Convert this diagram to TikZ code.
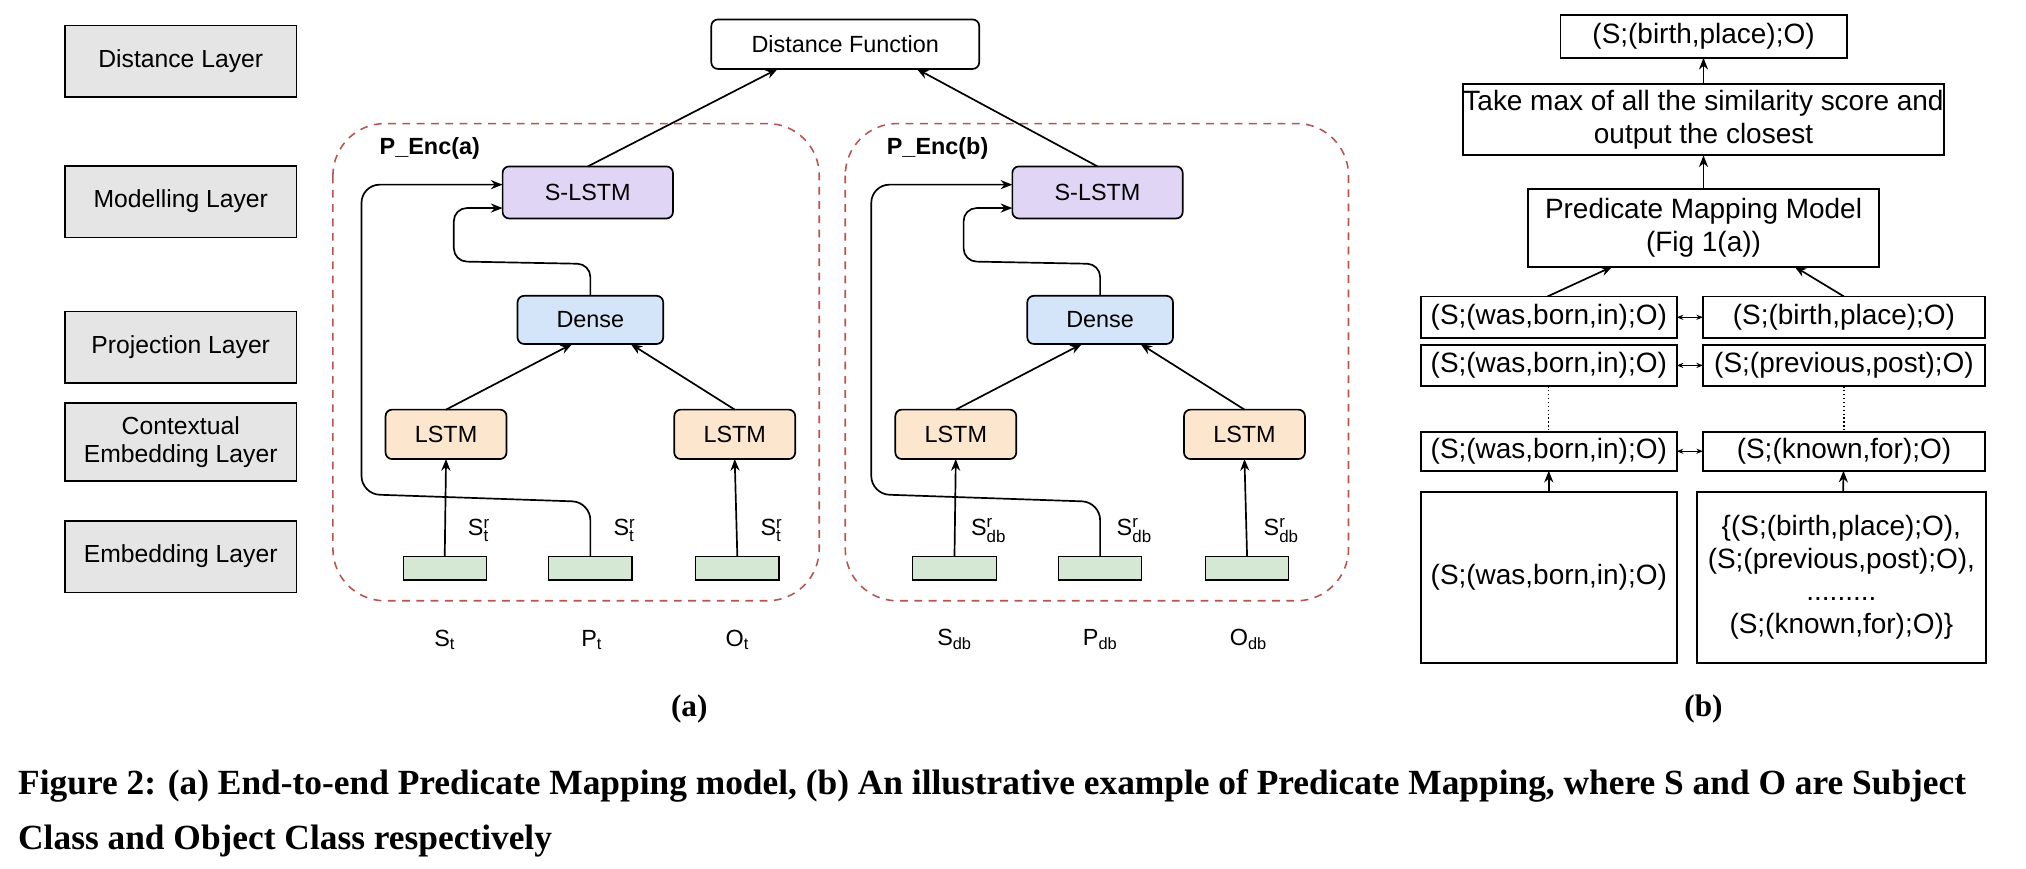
\documentclass[tikz,border=0pt]{standalone}
\usepackage{fontspec}
\setmainfont{Liberation Sans}
\newfontfamily\capfont{Liberation Serif}
\usetikzlibrary{arrows.meta}
\newcommand{\supsub}[1]{S\raisebox{-5pt}{\fontsize{13}{13}\selectfont\shortstack[l]{r\\[-1pt]#1}}}
\begin{document}
\begin{tikzpicture}[x=1pt,y=-1pt,
  every node/.style={inner sep=0pt,outer sep=0pt},
  lay/.style={draw,line width=1.1pt,fill=gray!20,font=\fontsize{19}{22}\selectfont,align=center},
  rbox/.style={draw,line width=1.3pt,rounded corners=5pt,font=\fontsize{18}{21}\selectfont},
  emb/.style={draw,line width=0.9pt,fill=emb},
  pb/.style={draw,line width=1.5pt,font=\fontsize{21.5}{25}\selectfont,align=center},
  arr/.style={line width=1.3pt,-{Stealth[length=9pt,width=7pt]}},
  darr/.style={line width=1pt,{Stealth[length=5pt,width=4pt]}-{Stealth[length=5pt,width=4pt]}},
  enc/.style={draw=encc,dashed,dash pattern=on 6pt off 5pt,line width=1.2pt,rounded corners=40pt},
  lbl/.style={font=\fontsize{18}{21}\selectfont},
]
\definecolor{emb}{HTML}{D5E8D4}
\definecolor{slc}{HTML}{E1D5F5}
\definecolor{dnc}{HTML}{D4E5FA}
\definecolor{lsc}{HTML}{FCE6CE}
\definecolor{encc}{HTML}{B85450}
\useasboundingbox (0,0) rectangle (1558,668);
% layer boxes
\node[lay,minimum width=178pt,minimum height=55pt] (L1) at (139,47) {Distance Layer};
\node[lay,minimum width=178pt,minimum height=55pt] (L2) at (139,155) {Modelling Layer};
\node[lay,minimum width=178pt,minimum height=55pt] (L3) at (139,267) {Projection Layer};
\node[lay,minimum width=178pt,minimum height=60pt] (L4) at (139,340) {Contextual\\Embedding Layer};
\node[lay,minimum width=178pt,minimum height=55pt] (L5) at (139,428) {Embedding Layer};
% distance function
\node[rbox,minimum width=206pt,minimum height=38pt] (DF) at (650,34) {Distance Function};
% encoders
\draw[enc] (256,95) rectangle (630,462);
\draw[enc] (650,95) rectangle (1037,462);
\node[font=\bfseries\fontsize{18}{21}\selectfont,anchor=west] (PA) at (292,114) {P\_Enc(a)};
\node[font=\bfseries\fontsize{18}{21}\selectfont,anchor=west] (PB) at (682,114) {P\_Enc(b)};
\foreach \s/\o/\lab in {a/0/t, b/392/db}{
  \node[rbox,fill=slc,minimum width=131pt,minimum height=40pt] (SL\s) at (452+\o,148) {S-LSTM};
  \node[rbox,fill=dnc,minimum width=112pt,minimum height=37pt] (DN\s) at (454+\o,246) {Dense};
  \node[rbox,fill=lsc,minimum width=93pt,minimum height=38pt] (LL\s) at (343+\o,334) {LSTM};
  \node[rbox,fill=lsc,minimum width=93pt,minimum height=38pt] (LR\s) at (565+\o,334) {LSTM};
  \node[emb,minimum width=64pt,minimum height=18pt] (E1\s) at (342+\o,437) {};
  \node[emb,minimum width=64pt,minimum height=18pt] (E2\s) at (454+\o,437) {};
  \node[emb,minimum width=64pt,minimum height=18pt] (E3\s) at (567+\o,437) {};
  \node[lbl] (R1\s) at (368+\o,408) {\supsub{\lab}};
  \node[lbl] (R2\s) at (480+\o,408) {\supsub{\lab}};
  \node[lbl] (R3\s) at (593+\o,408) {\supsub{\lab}};
  \draw[arr] (E1\s.north) -- (LL\s.south);
  \draw[arr] (E3\s.north) -- (LR\s.south);
  \draw[arr] (LL\s.north) -- ([xshift=-14pt]DN\s.south);
  \draw[arr] (LR\s.north) -- ([xshift=31pt]DN\s.south);
  \draw[arr,rounded corners=14pt] (E2\s.north) -- (454+\o,386) -- (278+\o,380) -- (278+\o,142) -- ([yshift=6pt]SL\s.west);
  \draw[arr,rounded corners=10pt] (DN\s.north) -- (454+\o,203) -- (349+\o,201) -- (349+\o,160) -- ([yshift=-12pt]SL\s.west);
}
\node[lbl] (Xa1) at (342,492) {S$_{\mathrm{t}}$};
\node[lbl] (Xa2) at (455,492) {P$_{\mathrm{t}}$};
\node[lbl] (Xa3) at (567,492) {O$_{\mathrm{t}}$};
\node[lbl] (Xb1) at (734,492) {S$_{\mathrm{db}}$};
\node[lbl] (Xb2) at (846,492) {P$_{\mathrm{db}}$};
\node[lbl] (Xb3) at (960,492) {O$_{\mathrm{db}}$};
\draw[arr] (SLa.north) -- ([xshift=-52pt]DF.south);
\draw[arr] (SLb.north) -- ([xshift=55pt]DF.south);
% right panel
\node[pb,minimum width=220pt,minimum height=33pt] (T) at (1310,28) {(S;(birth,place);O)};
\node[pb,minimum width=340pt,minimum height=55pt] (M) at (1310,92) {Take max of all the similarity score and\\output the closest};
\node[pb,minimum width=270pt,minimum height=60pt] (P) at (1310,175) {Predicate Mapping Model\\(Fig 1(a))};
\node[pb,minimum width=197pt,minimum height=32pt] (A1) at (1191,244) {(S;(was,born,in);O)};
\node[pb,minimum width=217pt,minimum height=32pt] (B1) at (1418,244) {(S;(birth,place);O)};
\node[pb,minimum width=197pt,minimum height=32pt] (A2) at (1191,281) {(S;(was,born,in);O)};
\node[pb,minimum width=217pt,minimum height=32pt] (B2) at (1418,281) {(S;(previous,post);O)};
\node[pb,minimum width=197pt,minimum height=30pt] (A3) at (1191,347) {(S;(was,born,in);O)};
\node[pb,minimum width=217pt,minimum height=30pt] (B3) at (1418,347) {(S;(known,for);O)};
\node[pb,minimum width=197pt,minimum height=132pt] (A4) at (1191,444) {(S;(was,born,in);O)};
\node[pb,minimum width=222pt,minimum height=132pt] (B4) at (1416,444) {\{(S;(birth,place);O),\\(S;(previous,post);O),\\.........\\(S;(known,for);O)\}};
\draw[darr] (A1) -- (B1);
\draw[darr] (A2) -- (B2);
\draw[darr] (A3) -- (B3);
\draw[line width=1pt,dotted] (A2.south) -- (A3.north);
\draw[line width=1pt,dotted] (B2.south) -- (B3.north);
\draw[arr] (A4) -- (A3);
\draw[arr] (B4) -- (B3);
\draw[arr] ([xshift=-1pt]A1.north) -- ([xshift=-70pt]P.south);
\draw[arr] (B1.north) -- ([xshift=70pt]P.south);
\draw[arr] (P) -- (M);
\draw[arr] (M) -- (T);
% labels
\node[font=\capfont\bfseries\fontsize{24}{28}\selectfont] (La) at (530,545) {(a)};
\node[font=\capfont\bfseries\fontsize{24}{28}\selectfont] (Lb) at (1310,545) {(b)};
\node[font=\capfont\bfseries\fontsize{27.2}{42}\selectfont,anchor=north west,align=left] (C) at (14,592) {Figure 2: (a) End-to-end Predicate Mapping model, (b) An illustrative example of Predicate Mapping, where S and O are Subject\\Class and Object Class respectively};
\end{tikzpicture}
\end{document}
